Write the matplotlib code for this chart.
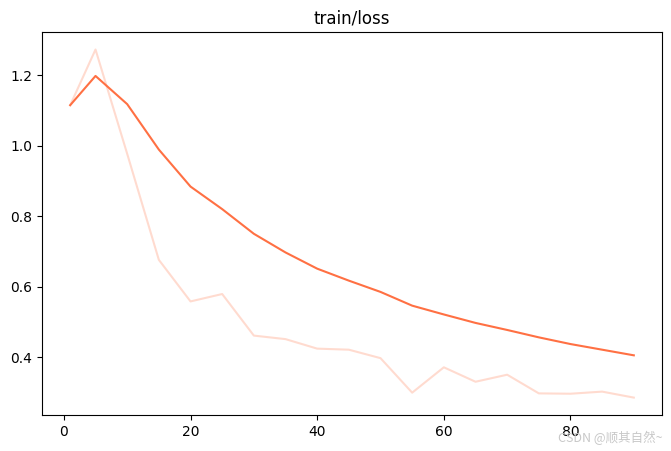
import numpy as np
import matplotlib
matplotlib.use("Agg")
import matplotlib.pyplot as plt

# steps and loss values
steps = [1, 5, 10, 15, 20, 25, 30, 35, 40, 45, 50, 55, 60, 65, 70, 75, 80, 85, 90]
raw_loss = [1.115, 1.273, 0.977, 0.676, 0.558, 0.579, 0.461, 0.451, 0.424, 0.421,
            0.397, 0.299, 0.371, 0.330, 0.350, 0.297, 0.296, 0.302, 0.285]
smooth_loss = [1.115, 1.198, 1.118, 0.989, 0.884, 0.820, 0.750, 0.697, 0.651, 0.617,
               0.585, 0.546, 0.521, 0.497, 0.477, 0.456, 0.437, 0.421, 0.405]

color = '#ff7043'

fig = plt.figure(figsize=(6.71, 4.51), dpi=100)
ax = fig.add_axes([0.0626, 0.0798, 0.924, 0.849])

ax.plot(steps, raw_loss, color=color, alpha=0.25, linewidth=1.5)
ax.plot(steps, smooth_loss, color=color, linewidth=1.5)
ax.set_title('train/loss')

# watermark
fig.text(0.988, 0.03, 'CSDN @顺其自然~', ha='right', va='center', fontsize=9,
         color='#c8c8c8', family=['Noto Sans CJK SC', 'DejaVu Sans'])

fig.savefig('out.png', dpi=100)
